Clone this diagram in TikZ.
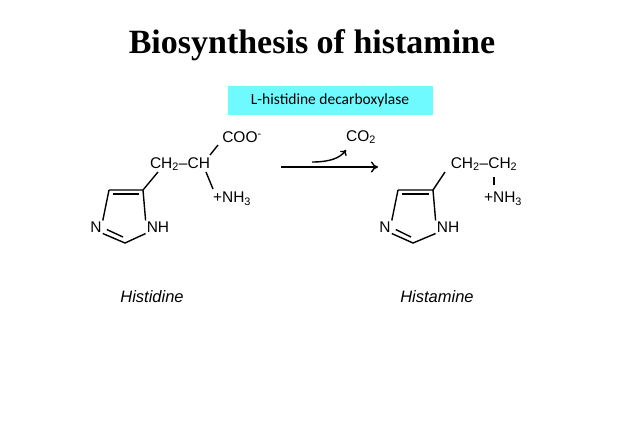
\documentclass[tikz,border=0pt]{standalone}
\usetikzlibrary{calc,arrows.meta}
\usepackage{fontspec}
\setmainfont{Liberation Sans}
\newfontfamily\titlefont{Liberation Serif}
\newfontfamily\boxfont{Carlito}
\definecolor{boxcyan}{RGB}{110,250,255}
\newcommand{\sbs}[1]{\textsubscript{#1}}
\begin{document}
\begin{tikzpicture}[x=1pt,y=-1pt,
  chem/.style={font=\fontsize{15.5}{15.5}\selectfont, inner sep=1pt},
  bond/.style={line width=1.4pt},
  lbl/.style={font=\fontsize{16.5}{16.5}\selectfont\itshape}]
\useasboundingbox (0,0) rectangle (638,426);
\node[font=\titlefont\bfseries\fontsize{34}{34}\selectfont] (title) at (312,45) {Biosynthesis of histamine};
\node[fill=boxcyan, minimum width=205, minimum height=29, font=\boxfont\fontsize{15.5}{15.5}\selectfont] (enz) at (330,100) {L-histidine decarboxylase};
% Histidine
\coordinate (a1) at (109,190); \coordinate (a2) at (143,190); \coordinate (a5) at (125,243);
\node[chem] (aN) at (96,227) {N};
\node[chem] (aNH) at (158,227) {NH};
\draw[bond] (a1) -- (a2) (a1) -- (aN.north east) (aN.south east) -- (a5) -- (aNH.south west) (aNH.north west) -- (a2);
\draw[bond] ($(a1)+(4,4)$) -- ($(a2)+(-4,4)$);
\draw[bond] ($(a5)+(-2,-6)$) -- ($(aN.south east)+(4,-4)$);
\node[chem] (aCH2) at (180,164) {CH\sbs{2}--CH};
\node[chem] (aCOO) at (242,137) {COO\textsuperscript{-}};
\node[chem] (aNH3) at (232,199) {+NH\sbs{3}};
\draw[bond] (a2) -- (158,172);
\draw[bond] (210,155) -- (218,145);
\draw[bond] (206,172) -- (213,189);
\node[lbl] (his) at (152,297) {Histidine};
% arrow
\coordinate (r1) at (281,167); \coordinate (r2) at (378,167);
\draw[line width=1.4pt,-{To[length=7pt,width=11pt]}] (r1) -- (r2);
\node[chem] (co2) at (361,137) {CO\sbs{2}};
\coordinate (c1) at (312,162);
\draw[line width=1.4pt,-{To[length=5pt,width=8pt]}] (c1) .. controls (330,162) and (340,158) .. (346,150);
% Histamine
\coordinate (b1) at (398,190); \coordinate (b2) at (433,190); \coordinate (b5) at (413,243);
\node[chem] (bN) at (385,227) {N};
\node[chem] (bNH) at (448,227) {NH};
\draw[bond] (b1) -- (b2) (b1) -- (bN.north east) (bN.south east) -- (b5) -- (bNH.south west) (bNH.north west) -- (b2);
\draw[bond] ($(b1)+(4,4)$) -- ($(b2)+(-4,4)$);
\draw[bond] ($(b5)+(-2,-6)$) -- ($(bN.south east)+(4,-4)$);
\node[chem] (bCH2) at (484,164) {CH\sbs{2}--CH\sbs{2}};
\draw[bond] (b2) -- (445,172);
\draw[bond] (494,177) -- (494,185);
\node[chem] (bNH3) at (503,199) {+NH\sbs{3}};
\node[lbl] (hist) at (437,297) {Histamine};
\end{tikzpicture}
\end{document}
